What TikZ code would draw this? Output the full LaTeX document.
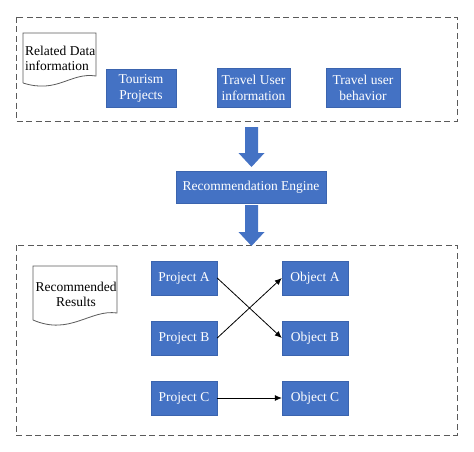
\documentclass[tikz,border=0pt]{standalone}
\usepackage{fontspec}
\setmainfont{Liberation Serif}
\usetikzlibrary{positioning,arrows.meta}

\definecolor{boxblue}{HTML}{4472C4}
\definecolor{boxedge}{HTML}{3B64AE}
\definecolor{framegray}{HTML}{5A5A5A}

\tikzset{
  block/.style={fill=boxblue, draw=boxedge, text=white, align=center,
    font=\fontsize{13.5}{16}\selectfont, inner sep=0pt},
  frame/.style={draw=framegray, thick, dash pattern=on 6pt off 3.5pt},
  doc/.style={draw=framegray, fill=white, thick},
  doctext/.style={font=\fontsize{13.5}{15}\selectfont, inner sep=0pt},
  link/.style={-{Latex[length=7pt,width=6pt]}, thick},
  bigarrow/.style={fill=boxblue}
}

\begin{document}
\begin{tikzpicture}[x=1pt,y=-1pt]
\useasboundingbox (0,0) rectangle (474,452);

% dashed frames
\draw[frame] (16,17) rectangle (457,121);
\draw[frame] (16,245) rectangle (457,435);

% document shapes
\draw[doc] (23,83) -- (23,33) -- (96,33) -- (96,76)
  .. controls (70,72) and (58,94) .. (23,83);
\node[doctext, align=left, anchor=west] (related) at (25,58) {Related Data\\information};

\draw[doc] (33,320) -- (33,266) -- (117,266) -- (117,313)
  .. controls (90,309) and (70,336) .. (33,320);
\node[doctext, align=center] (recres) at (76,294) {Recommended\\Results};

% data blocks
\node[block, minimum width=70pt, minimum height=38pt] (tour) at (141,88) {Tourism\\Projects};
\node[block, minimum width=73pt, minimum height=39pt] (tuser) at (253.5,87.5) {Travel User\\information};
\node[block, minimum width=74pt, minimum height=39pt] (tbeh) at (363,87.5) {Travel user\\behavior};

% engine
\node[block, minimum width=150pt, minimum height=32pt] (engine) at (251,187) {Recommendation Engine};

% block arrows
\fill[bigarrow] (245,127) -- (258,127) -- (258,153) -- (264.5,153) -- (251.5,167)
  -- (238.5,153) -- (245,153) -- cycle;
\fill[bigarrow] (245,205) -- (258,205) -- (258,232) -- (264.5,232) -- (251.5,246)
  -- (238.5,232) -- (245,232) -- cycle;

% results
\node[block, minimum width=66pt, minimum height=34pt] (pA) at (184,278) {Project A};
\node[block, minimum width=66pt, minimum height=34pt] (pB) at (184,338) {Project B};
\node[block, minimum width=66pt, minimum height=34pt] (pC) at (184,398) {Project C};
\node[block, minimum width=66pt, minimum height=34pt] (oA) at (315,278) {Object A};
\node[block, minimum width=66pt, minimum height=34pt] (oB) at (315,338) {Object B};
\node[block, minimum width=66pt, minimum height=34pt] (oC) at (315,398) {Object C};

\draw[link] (pA.east) -- (oB.west);
\draw[link] (pB.east) -- (oA.west);
\draw[link] (pC.east) -- (oC.west);
\end{tikzpicture}
\end{document}
